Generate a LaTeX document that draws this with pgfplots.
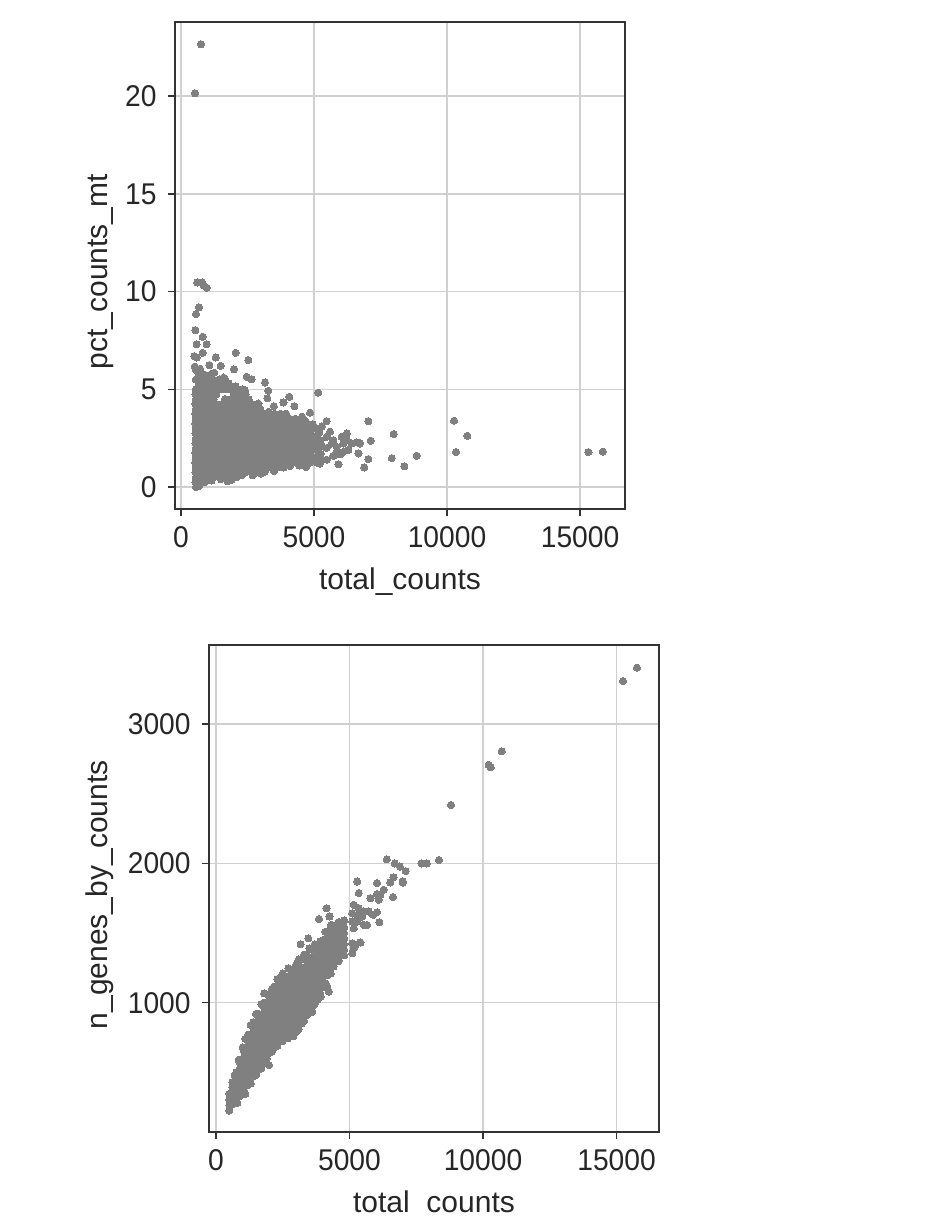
\documentclass[border=0pt]{standalone}
\usepackage{pgfplots}
\pgfplotsset{compat=1.18}
\usepackage{fontspec}
\setmainfont{Liberation Sans}
\newfontfamily\tickfont[FakeStretch=0.94]{Liberation Sans}
\definecolor{txt}{HTML}{262626}
\definecolor{dot}{HTML}{808080}
\definecolor{gridc}{HTML}{D0D0D0}
\definecolor{frame}{HTML}{333333}
\pgfplotsset{
 myax/.style={
  scale only axis, width=225pt, height=243.5pt,
  axis on top,
  grid=major, grid style={gridc,line width=0.75pt},
  axis line style={frame,line width=0.75pt},
  tick style={frame,line width=0.75pt},
  tick align=outside, major tick length=3.5pt,
  xtick pos=bottom, ytick pos=left,
  scaled x ticks=false, scaled y ticks=false,
  /pgf/number format/assume math mode=true,
  /pgf/number format/1000 sep={},
  /pgf/number format/fixed,
  tick label style={font=\tickfont\fontsize{15}{17}\selectfont,text=txt,inner sep=0pt},
  xticklabel style={yshift=-5pt},
  yticklabel style={xshift=-5.5pt},
  label style={font=\fontsize{15}{17}\selectfont,text=txt},
  xlabel style={at={(axis description cs:0.5,-0.1663)},anchor=base,inner sep=0pt},
  xtick={0,5000,10000,15000},
 },
 dots/.style={only marks,mark=*,mark size=1.8pt,mark options={fill=dot,draw=dot,line width=0pt},color=dot},
}
\begin{document}
\begin{tikzpicture}
\path[use as bounding box] (0,0) rectangle (475pt,608pt);
\begin{axis}[myax,at={(87.5pt,353.5pt)},anchor=south west,
  xmin=-225,xmax=16690,ymin=-1.125,ymax=23.8,
  ytick={0,5,10,15,20},
  xlabel={total\_counts},ylabel={pct\_counts\_mt},
  ylabel style={at={(axis description cs:-0.149,0.487)},anchor=base,inner sep=0pt},
]
\addplot[dots] coordinates {
(752,22.66)(526,20.15)(614,10.47)(802,10.47)(840,10.33)(965,10.2)(677,9.2)(564,8.85)(539,8.03)(815,7.69)(965,7.31)(589,7.31)(815,6.87)(500,6.7)(589,6.63)(1303,6.63)(2056,6.87)(2532,6.5)(1066,6.24)(1492,6.2)(1992,6.02)(520,6.16)(2470,5.64)(2650,5.51)(3158,5.35)(3284,4.93)(3246,4.54)(4073,4.62)(3850,4.33)(4262,4.14)(3490,4.14)(2910,4.27)(4850,3.8)(5163,4.83)(5476,3.37)(7043,3.37)(7997,2.71)(7130,2.37)(6237,2.74)(6670,1.72)(7043,1.43)(6893,1.0)(7922,1.48)(8396,1.07)(8862,1.6)(10265,3.39)(10765,2.62)(10340,1.79)(15315,1.79)(15855,1.81)
(5602,2.83)(5476,2.57)(5665,2.23)(5853,2.06)(6100,2.23)(6237,2.4)(6417,2.23)(6605,2.29)(6730,2.23)(6040,2.57)(6290,1.9)(5980,1.67)(5917,1.16)(5728,1.6)(5476,1.4)(5225,1.2)(5853,1.8)(6100,1.8)(5476,2.0)(5728,2.4)
(5100,3.0)(5200,2.8)(5100,2.6)(5250,2.4)(5100,2.2)(5300,2.1)(5100,1.9)(5250,1.7)(5100,1.5)(5300,1.4)(5100,1.25)(5300,3.1)
(1150,.33)(1500,.4)(1750,.3)(2300,.62)(2700,.6)(3150,.78)(3500,.82)(4100,1.08)(4450,1.1)(4700,1.02)(3000,.68)(1900,.36)
(2400,4.95)(2600,4.3)(2970,3.95)(3300,3.85)(3950,3.75)(4550,3.6)(4700,3.35)(4960,3.2)(1800,5.3)(2050,5.15)(1650,5.55)(1250,5.85)
(560,0)(680,.05)
(540,.25)(670,.25)(890,.25)
(560,.5)(780,.5)(1000,.5)(1220,.5)(1440,.5)(1660,.5)(1880,.5)(2100,.5)
(540,.75)(670,.75)(890,.75)(1110,.75)(1330,.75)(1550,.75)(1770,.75)(1990,.75)(2210,.75)(2430,.75)(2650,.75)(2870,.75)
(560,1)(780,1)(1000,1)(1220,1)(1440,1)(1660,1)(1880,1)(2100,1)(2320,1)(2540,1)(2760,1)(2980,1)(3200,1)(3420,1)(3640,1)(3860,1)
(540,1.25)(670,1.25)(890,1.25)(1110,1.25)(1330,1.25)(1550,1.25)(1770,1.25)(1990,1.25)(2210,1.25)(2430,1.25)(2650,1.25)(2870,1.25)(3090,1.25)(3310,1.25)(3530,1.25)(3750,1.25)(3970,1.25)(4190,1.25)(4410,1.25)(4630,1.25)(4850,1.25)
(560,1.5)(780,1.5)(1000,1.5)(1220,1.5)(1440,1.5)(1660,1.5)(1880,1.5)(2100,1.5)(2320,1.5)(2540,1.5)(2760,1.5)(2980,1.5)(3200,1.5)(3420,1.5)(3640,1.5)(3860,1.5)(4080,1.5)(4300,1.5)(4520,1.5)(4740,1.5)(4960,1.5)
(540,1.75)(670,1.75)(890,1.75)(1110,1.75)(1330,1.75)(1550,1.75)(1770,1.75)(1990,1.75)(2210,1.75)(2430,1.75)(2650,1.75)(2870,1.75)(3090,1.75)(3310,1.75)(3530,1.75)(3750,1.75)(3970,1.75)(4190,1.75)(4410,1.75)(4630,1.75)(4850,1.75)
(560,2)(780,2)(1000,2)(1220,2)(1440,2)(1660,2)(1880,2)(2100,2)(2320,2)(2540,2)(2760,2)(2980,2)(3200,2)(3420,2)(3640,2)(3860,2)(4080,2)(4300,2)(4520,2)(4740,2)(4960,2)
(540,2.25)(670,2.25)(890,2.25)(1110,2.25)(1330,2.25)(1550,2.25)(1770,2.25)(1990,2.25)(2210,2.25)(2430,2.25)(2650,2.25)(2870,2.25)(3090,2.25)(3310,2.25)(3530,2.25)(3750,2.25)(3970,2.25)(4190,2.25)(4410,2.25)(4630,2.25)(4850,2.25)
(560,2.5)(780,2.5)(1000,2.5)(1220,2.5)(1440,2.5)(1660,2.5)(1880,2.5)(2100,2.5)(2320,2.5)(2540,2.5)(2760,2.5)(2980,2.5)(3200,2.5)(3420,2.5)(3640,2.5)(3860,2.5)(4080,2.5)(4300,2.5)(4520,2.5)(4740,2.5)(4960,2.5)
(540,2.75)(670,2.75)(890,2.75)(1110,2.75)(1330,2.75)(1550,2.75)(1770,2.75)(1990,2.75)(2210,2.75)(2430,2.75)(2650,2.75)(2870,2.75)(3090,2.75)(3310,2.75)(3530,2.75)(3750,2.75)(3970,2.75)(4190,2.75)(4410,2.75)(4630,2.75)(4850,2.75)
(560,3)(780,3)(1000,3)(1220,3)(1440,3)(1660,3)(1880,3)(2100,3)(2320,3)(2540,3)(2760,3)(2980,3)(3200,3)(3420,3)(3640,3)(3860,3)(4080,3)(4300,3)(4520,3)(4740,3)(4960,3)
(540,3.25)(670,3.25)(890,3.25)(1110,3.25)(1330,3.25)(1550,3.25)(1770,3.25)(1990,3.25)(2210,3.25)(2430,3.25)(2650,3.25)(2870,3.25)(3090,3.25)(3310,3.25)(3530,3.25)(3750,3.25)(3970,3.25)(4190,3.25)(4410,3.25)(4630,3.25)
(560,3.5)(780,3.5)(1000,3.5)(1220,3.5)(1440,3.5)(1660,3.5)(1880,3.5)(2100,3.5)(2320,3.5)(2540,3.5)(2760,3.5)(2980,3.5)(3200,3.5)(3420,3.5)(3640,3.5)(3860,3.5)(4080,3.5)(4300,3.5)
(540,3.75)(670,3.75)(890,3.75)(1110,3.75)(1330,3.75)(1550,3.75)(1770,3.75)(1990,3.75)(2210,3.75)(2430,3.75)(2650,3.75)(2870,3.75)(3090,3.75)(3310,3.75)(3530,3.75)(3750,3.75)
(560,4)(780,4)(1000,4)(1220,4)(1440,4)(1660,4)(1880,4)(2100,4)(2320,4)(2540,4)(2760,4)(2980,4)
(540,4.25)(670,4.25)(890,4.25)(1110,4.25)(1330,4.25)(1550,4.25)(1770,4.25)(1990,4.25)(2210,4.25)(2430,4.25)(2650,4.25)
(560,4.5)(780,4.5)(1000,4.5)(1220,4.5)(1660,4.5)(1880,4.5)(2100,4.5)(2320,4.5)(2540,4.5)
(540,4.75)(670,4.75)(890,4.75)(1110,4.75)(1330,4.75)(1990,4.75)(2210,4.75)(2430,4.75)
(560,5)(780,5)(1000,5)(1220,5)(1440,5)(1660,5)(1880,5)(2100,5)(2320,5)
(670,5.25)(890,5.25)(1110,5.25)(1330,5.25)(1550,5.25)(1770,5.25)
(560,5.5)(780,5.5)(1000,5.5)(1220,5.5)(1440,5.5)(1600,5.6)
(670,5.8)(890,5.75)(1150,5.8)
(560,6.0)(720,6.05)
};
\end{axis}
\begin{axis}[myax,at={(104.5pt,42pt)},anchor=south west,
  xmin=-260,xmax=16590,ymin=72,ymax=3568,
  ytick={1000,2000,3000},
  xlabel={total\_counts},ylabel={n\_genes\_by\_counts},
  ylabel style={at={(axis description cs:-0.225,0.487)},anchor=base,inner sep=0pt},
]
\addplot[dots] coordinates {
(15243,3309)(15767,3405)(10700,2805)(10210,2707)(10288,2690)(8800,2420)(8352,2024)(7891,2000)(7700,2000)(7105,1945)(6993,1873)(6891,1978)
(1803,1067)(2177,1115)(2425,1187)(2711,1247)(3047,1283)(3172,1420)(3458,1463)(3669,1391)(3856,1600)(4254,1619)(4142,1679)(4328,1559)
(1990,552)(3607,935)(3918,1043)(4229,1079)(4167,1115)(4726,1367)(4560,1380)
(5162,1703)(5348,1679)(5535,1655)(5721,1655)(5100,1643)(5286,1631)(5473,1619)(5100,1583)(5286,1583)(5162,1535)(5535,1559)(5659,1559)(5410,1650)
(5100,1427)(5410,1432)(5224,1415)(5100,1355)(5162,1391)
(6032,1650)(5883,1631)(6120,1578)(6630,1758)(5784,1751)(6095,1739)(6157,1775)(6281,1811)(6032,1780)(5348,1787)(5286,1870)(6032,1859)(6530,1863)(7003,1863)(6650,1900)(6400,2030)(6700,2000)
(500,225)(500,265)(500,305)(500,345)
(620,270)(620,310)(620,350)(620,390)(620,430)
(760,300)(760,340)(760,380)(760,420)(760,460)(760,500)
(900,330)(900,370)(900,410)(900,450)(900,490)(900,530)(900,570)
(1050,370)(1050,410)(1050,450)(1050,490)(1050,530)(1050,570)(1050,610)(1050,650)
(1200,410)(1200,450)(1200,490)(1200,530)(1200,570)(1200,610)(1200,650)(1200,690)(1200,730)(1200,770)
(1400,470)(1400,510)(1400,550)(1400,590)(1400,630)(1400,670)(1400,710)(1400,750)(1400,790)(1400,830)(1400,860)
(1600,520)(1600,560)(1600,600)(1600,640)(1600,680)(1600,720)(1600,760)(1600,800)(1600,840)(1600,880)(1600,920)
(1800,570)(1800,610)(1800,650)(1800,690)(1800,730)(1800,770)(1800,810)(1800,850)(1800,890)(1800,930)(1800,970)(1800,1000)
(2000,640)(2000,680)(2000,720)(2000,760)(2000,800)(2000,840)(2000,880)(2000,920)(2000,960)(2000,1000)(2000,1040)(2000,1060)
(2200,680)(2200,720)(2200,760)(2200,800)(2200,840)(2200,880)(2200,920)(2200,960)(2200,1000)(2200,1040)(2200,1080)(2200,1110)
(2400,720)(2400,760)(2400,800)(2400,840)(2400,880)(2400,920)(2400,960)(2400,1000)(2400,1040)(2400,1080)(2400,1120)(2400,1150)
(2600,745)(2600,785)(2600,825)(2600,865)(2600,905)(2600,945)(2600,985)(2600,1025)(2600,1065)(2600,1105)(2600,1145)(2600,1190)
(2800,765)(2800,805)(2800,845)(2800,885)(2800,925)(2800,965)(2800,1005)(2800,1045)(2800,1085)(2800,1125)(2800,1165)(2800,1205)(2800,1240)
(3000,790)(3000,830)(3000,870)(3000,910)(3000,950)(3000,990)(3000,1030)(3000,1070)(3000,1110)(3000,1150)(3000,1190)(3000,1230)(3000,1270)
(3200,850)(3200,890)(3200,930)(3200,970)(3200,1010)(3200,1050)(3200,1090)(3200,1130)(3200,1170)(3200,1210)(3200,1250)(3200,1310)
(3400,910)(3400,950)(3400,990)(3400,1030)(3400,1070)(3400,1110)(3400,1150)(3400,1190)(3400,1230)(3400,1270)(3400,1310)(3400,1340)
(3600,970)(3600,1010)(3600,1050)(3600,1090)(3600,1130)(3600,1170)(3600,1210)(3600,1250)(3600,1290)(3600,1330)(3600,1380)
(3800,1020)(3800,1060)(3800,1100)(3800,1140)(3800,1180)(3800,1220)(3800,1260)(3800,1300)(3800,1340)(3800,1380)(3800,1410)
(4000,1110)(4000,1150)(4000,1190)(4000,1230)(4000,1270)(4000,1310)(4000,1350)(4000,1390)(4000,1430)(4000,1450)
(4200,1200)(4200,1240)(4200,1280)(4200,1320)(4200,1360)(4200,1400)(4200,1440)(4200,1480)(4200,1510)
(4400,1260)(4400,1300)(4400,1340)(4400,1380)(4400,1420)(4400,1460)(4400,1500)(4400,1550)
(4600,1300)(4600,1340)(4600,1380)(4600,1420)(4600,1460)(4600,1500)(4600,1540)(4600,1580)
(4800,1340)(4800,1380)(4800,1420)(4800,1460)(4800,1500)(4800,1540)(4800,1590)
(700,480)(850,590)(1000,680)(1100,740)(1300,840)(1500,920)(1700,990)(2100,1100)(2300,1170)(2500,1210)(3100,1310)(3300,1345)(3500,1390)(3700,1420)(3900,1440)(4100,1510)(4300,1540)
(800,280)(1100,345)(1300,420)(1500,480)(1700,530)(1900,600)(2100,650)(2300,690)(2500,725)(2700,745)(2900,760)(3100,810)(3300,870)(3500,930)(3700,990)(3900,1070)(4100,1140)(4300,1210)
};
\end{axis}
\end{tikzpicture}
\end{document}
